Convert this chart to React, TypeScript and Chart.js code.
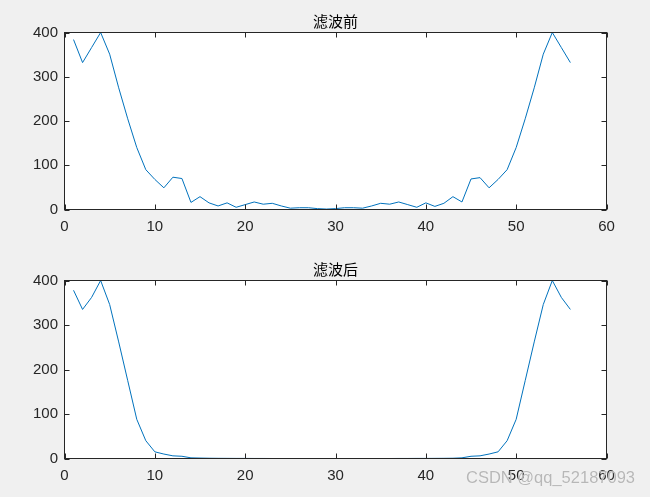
import { useEffect, useRef } from 'react';
import { Chart, registerables } from 'chart.js';

Chart.register(...registerables);

// sample index (x) shared by both plots
const sampleIndex = [
  1, 2, 3, 4, 5, 6, 7, 8, 9, 10, 11, 12, 13, 14, 15, 16, 17, 18, 19, 20,
  21, 22, 23, 24, 25, 26, 27, 28, 29, 30, 31, 32, 33, 34, 35, 36, 37, 38, 39, 40,
  41, 42, 43, 44, 45, 46, 47, 48, 49, 50, 51, 52, 53, 54, 55, 56,
];

// 滤波前
const beforeFilter = [
  384, 332, 366, 400, 351, 275, 205, 140, 90, 68, 49, 73, 70, 16, 29, 15, 8, 15, 5, 11,
  17, 12, 14, 8, 3, 4, 4, 2, 1, 2, 4, 4, 3, 8, 14, 12, 17, 11, 5, 15,
  7, 14, 29, 17, 69, 72, 49, 68, 90, 140, 205, 275, 351, 400, 366, 332,
];

// 滤波后
const afterFilter = [
  378, 335, 362, 400, 346, 262, 175, 88, 40, 15, 10, 6, 5, 1.5, 1, 0.6, 0.4, 0.3, 0.2, 0.2,
  0.1, 0.1, 0, 0, 0, 0, 0, 0, 0, 0, 0, 0, 0, 0, 0, 0, 0.1, 0.1, 0.2, 0.2,
  0.3, 0.4, 0.6, 1.5, 5, 6, 10, 15, 40, 88, 175, 262, 346, 400, 362, 335,
];

const xTickValues = [0, 10, 20, 30, 40, 50, 60];
const yTickValues = [0, 100, 200, 300, 400];

const AXIS_COLOR = '#262626';
const LINE_COLOR = '#0072BD';
const TICK_FONT = { family: '"Liberation Sans", Arial, sans-serif', size: 15 };

// MATLAB 스타일 박스 + 안쪽 눈금
const matlabAxes = {
  id: 'matlabAxes',
  beforeDraw(chart: any) {
    const { ctx, chartArea } = chart;
    ctx.save();
    ctx.fillStyle = '#ffffff';
    ctx.fillRect(chartArea.left, chartArea.top, chartArea.right - chartArea.left, chartArea.bottom - chartArea.top);
    ctx.restore();
  },
  afterDraw(chart: any) {
    const { ctx, chartArea, scales } = chart;
    const { left, right, top, bottom } = chartArea;
    const len = 5;
    ctx.save();
    ctx.strokeStyle = AXIS_COLOR;
    ctx.lineWidth = 1;
    ctx.beginPath();
    xTickValues.forEach(v => {
      const px = Math.round(scales.x.getPixelForValue(v)) + 0.5;
      ctx.moveTo(px, bottom);
      ctx.lineTo(px, bottom - len);
      ctx.moveTo(px, top);
      ctx.lineTo(px, top + len);
    });
    yTickValues.forEach(v => {
      const py = Math.round(scales.y.getPixelForValue(v)) + 0.5;
      ctx.moveTo(left, py);
      ctx.lineTo(left + len, py);
      ctx.moveTo(right, py);
      ctx.lineTo(right - len, py);
    });
    ctx.stroke();
    ctx.strokeRect(left, top, right - left, bottom - top);
    ctx.restore();
  },
};

interface SubplotProps {
  title: string;
  values: number[];
  top: number;
  height: number;
}

function Subplot({ title, values, top, height }: SubplotProps) {
  const canvasRef = useRef<HTMLCanvasElement>(null);
  const chartRef = useRef<Chart | null>(null);

  useEffect(() => {
    if (!canvasRef.current) return;
    if (chartRef.current) chartRef.current.destroy();

    chartRef.current = new Chart(canvasRef.current, {
      type: 'line',
      data: {
        datasets: [{
          data: sampleIndex.map((x, i) => ({ x, y: values[i] })),
          borderColor: LINE_COLOR,
          borderWidth: 1,
          pointRadius: 0,
          fill: false,
          tension: 0,
        }],
      },
      options: {
        responsive: false,
        animation: false,
        devicePixelRatio: 1,
        layout: { padding: { left: 0, right: 43.5, top: 0, bottom: 0 } },
        plugins: {
          legend: { display: false },
          tooltip: { enabled: false },
          title: {
            display: true,
            text: title,
            fullSize: false,
            color: '#000000',
            font: { family: '"Noto Sans CJK SC", sans-serif', size: 15, weight: 'normal', lineHeight: 1.2 },
            padding: { top: 12.5, bottom: 2 },
          },
        },
        scales: {
          x: {
            type: 'linear',
            min: 0,
            max: 60,
            grid: { display: false, drawTicks: false },
            border: { display: false },
            ticks: { color: AXIS_COLOR, font: TICK_FONT, padding: 8, maxRotation: 0 },
            afterBuildTicks: (scale: any) => { scale.ticks = xTickValues.map(value => ({ value })); },
            afterFit: (scale: any) => { scale.height = 38.5; },
          },
          y: {
            min: 0,
            max: 400,
            grid: { display: false, drawTicks: false },
            border: { display: false },
            ticks: { color: AXIS_COLOR, font: TICK_FONT, padding: 6.5 },
            afterBuildTicks: (scale: any) => { scale.ticks = yTickValues.map(value => ({ value })); },
            afterFit: (scale: any) => { scale.width = 64.5; },
          },
        },
      },
      plugins: [matlabAxes],
    });

    return () => {
      if (chartRef.current) {
        chartRef.current.destroy();
        chartRef.current = null;
      }
    };
  }, [title, values]);

  return (
    <canvas
      ref={canvasRef}
      width={650}
      height={height}
      style={{ position: 'absolute', left: 0, top, width: 650, height }}
    />
  );
}

export default function App() {
  return (
    <div style={{ position: 'absolute', left: 0, top: 0, width: 650, height: 497, background: '#f0f0f0', overflow: 'hidden' }}>
      <Subplot title="滤波前" values={beforeFilter} top={0} height={248} />
      <Subplot title="滤波后" values={afterFilter} top={248} height={249} />
      <div
        style={{
          position: 'absolute',
          left: 466,
          top: 468,
          fontFamily: '"Liberation Sans", Arial, sans-serif',
          fontSize: 16.5,
          color: 'rgba(170,170,170,0.85)',
          textShadow: '0 0 1px #ffffff',
          whiteSpace: 'nowrap',
          pointerEvents: 'none',
        }}
      >
        CSDN @qq_52187093
      </div>
    </div>
  );
}
